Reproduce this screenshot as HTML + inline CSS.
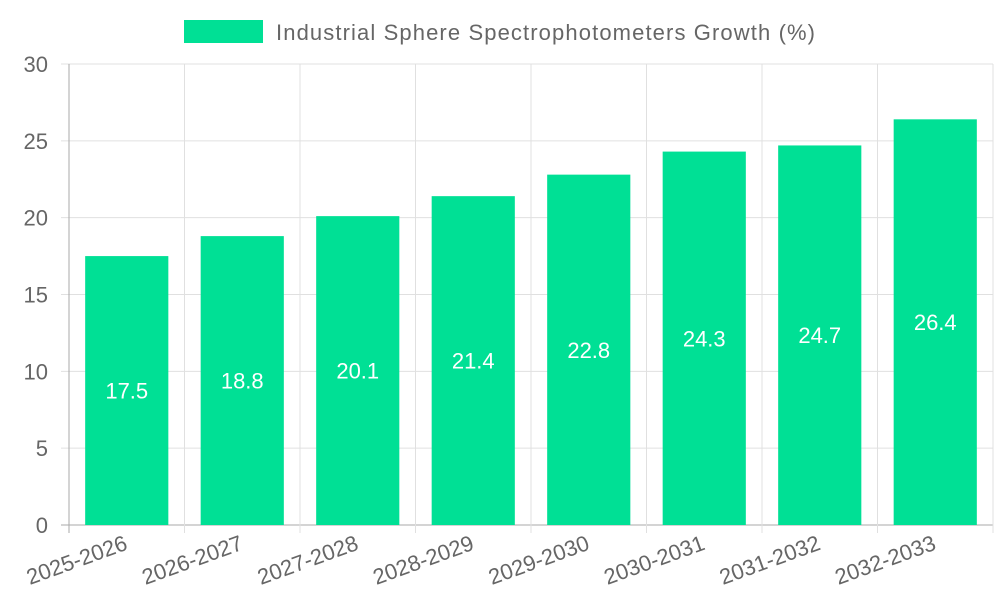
<!DOCTYPE html>
<html><head><meta charset="utf-8"><style>
html,body{margin:0;padding:0;background:#fff;}
svg{display:block;font-family:"Liberation Sans",sans-serif;}
</style></head><body>
<svg id="chart" width="1000" height="600" viewBox="0 0 1000 600">
<g>
<rect x="184" y="20" width="79" height="23" fill="#00e095"/>
<text x="276" y="40" font-size="22" fill="#666" textLength="539" lengthAdjust="spacing">Industrial Sphere Spectrophotometers Growth (%)</text>
</g>
<g id="grid"></g>
<g id="bars"></g>
<g id="labels"></g>
</svg>
<script>
const categories = ["2025-2026","2026-2027","2027-2028","2028-2029","2029-2030","2030-2031","2031-2032","2032-2033"];
const growthValues = [17.5,18.8,20.1,21.4,22.8,24.3,24.7,26.4];
const yTicks = [0,5,10,15,20,25,30];
const NS="http://www.w3.org/2000/svg";
const plotLeft=69,plotRight=993,plotTop=64,plotBottom=525,yMax=30;
const bw=(plotRight-plotLeft)/categories.length;
const yScale=v=>plotBottom-(v/yMax)*(plotBottom-plotTop);
const xc=i=>plotLeft+bw*(i+0.5);
function mk(tag,attrs,parent,text){const e=document.createElementNS(NS,tag);for(const k in attrs)e.setAttribute(k,attrs[k]);if(text!==undefined)e.textContent=text;parent.appendChild(e);return e;}
const grid=document.getElementById('grid'),bars=document.getElementById('bars'),labels=document.getElementById('labels');
yTicks.forEach(t=>{
  const l=mk('line',{x1:plotLeft-8,x2:plotRight,y1:yScale(t),y2:yScale(t),stroke:t===0?'#aaa':'#e0e0e0','stroke-width':1},grid);
  
  
  const tx=mk('text',{x:48,y:yScale(t)+8,'text-anchor':'end','font-size':22,fill:'#666'},grid,String(t));
  
  
});
for(let i=0;i<=categories.length;i++){
  const gx=plotLeft+bw*i;
  const l=mk('line',{x1:gx,x2:gx,y1:plotTop,y2:plotBottom+8,stroke:i===0?'#aaa':'#e0e0e0','stroke-width':1},grid);
  
  
}
categories.forEach((c,i)=>{
  const w=bw*0.72;
  const r=mk('rect',{x:xc(i)-w/2,y:yScale(growthValues[i]),width:w,height:plotBottom-yScale(growthValues[i]),fill:'#00e095'},bars);
  
  
  const v=mk('text',{x:xc(i),y:(yScale(growthValues[i])+plotBottom)/2+8,'text-anchor':'middle','font-size':22,fill:'#fff'},labels,growthValues[i].toFixed(1));
  
  
  const cx=xc(i)+2,cy=549;
  const t=mk('text',{x:cx,y:cy,'text-anchor':'end','font-size':22,fill:'#666',transform:`rotate(-20 ${cx} ${cy})`},labels,c);
  
  
});
</script>
</body></html>
